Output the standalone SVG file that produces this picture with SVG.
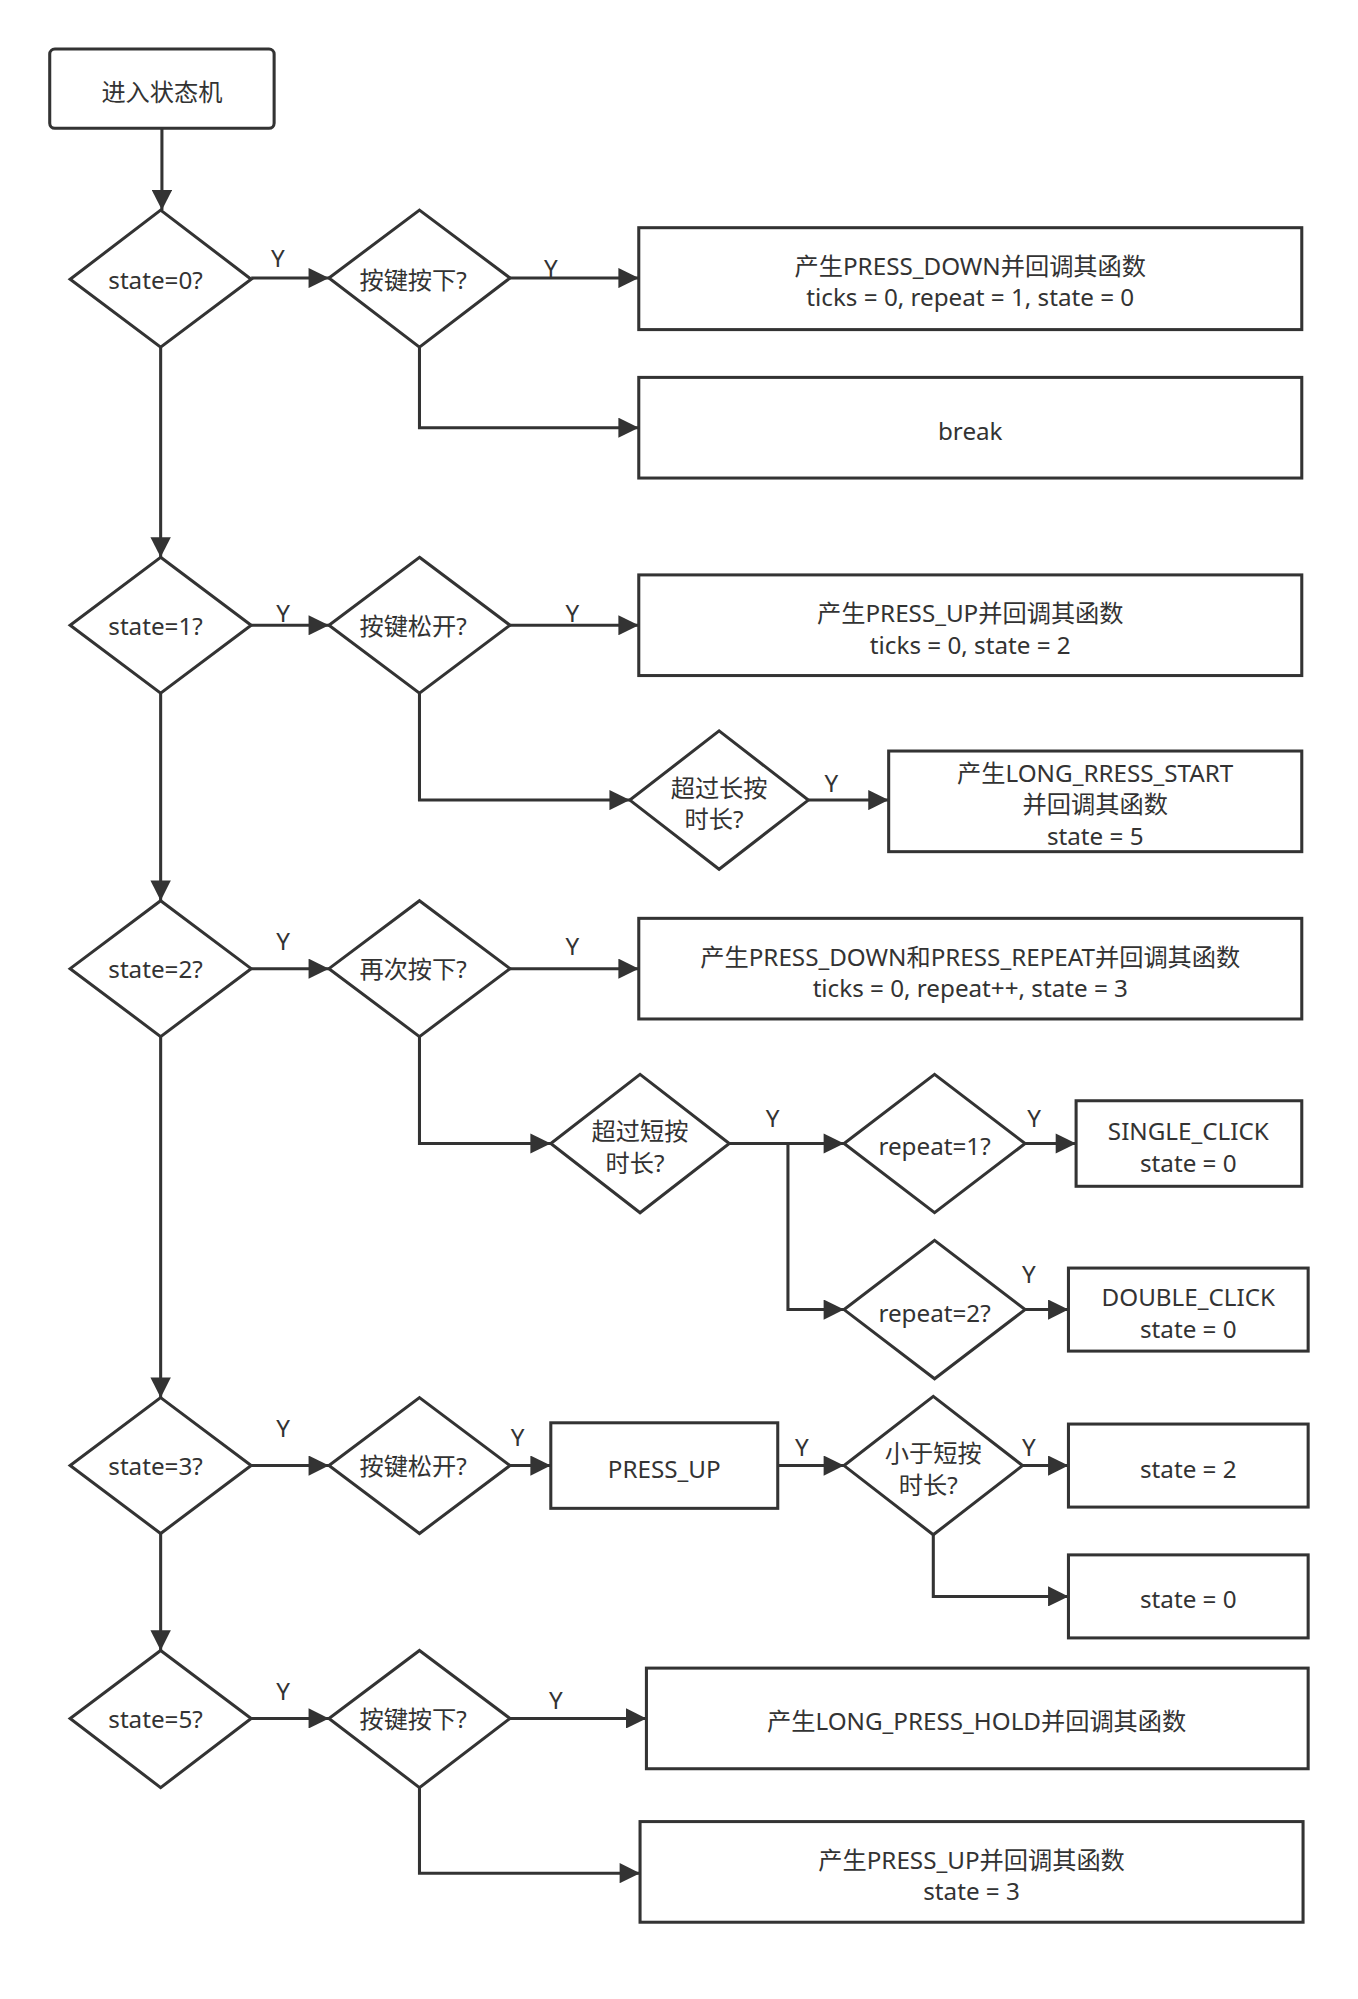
<svg xmlns="http://www.w3.org/2000/svg" width="1358" height="1999" viewBox="0 0 1358 1999">
<style>
.s{fill:#fff;stroke:#333;stroke-width:2.4}
.c{fill:none;stroke:#333;stroke-width:2.4}
text{font-family:"Noto Sans","Noto Sans CJK SC",sans-serif;font-size:19px;fill:#333;text-anchor:middle;dominant-baseline:central}
</style>
<defs>
<marker id="a" viewBox="0 0 10 10" refX="10" refY="5" markerUnits="userSpaceOnUse" markerWidth="24" markerHeight="16" orient="auto"><path d="M0,0L10,5L0,10z" fill="#333"/></marker>
</defs>
<rect width="1358" height="1999" fill="#fff"/>
<g transform="scale(1.275 1.258)">
<g id="connectors" marker-end="url(#a)">
<path class="c" d="M127,102V167"/>
<path class="c" d="M126,276V443"/>
<path class="c" d="M126,551V716"/>
<path class="c" d="M126,824V1111"/>
<path class="c" d="M126,1219V1312"/>
<path class="c" d="M197,221H258"/>
<path class="c" d="M197,497H258"/>
<path class="c" d="M197,770H258"/>
<path class="c" d="M197,1165H258"/>
<path class="c" d="M197,1366H258"/>
<path class="c" d="M400,221H501"/>
<path class="c" d="M329,276V340H501"/>
<path class="c" d="M400,497H501"/>
<path class="c" d="M329,551V636H494"/>
<path class="c" d="M634,636H697"/>
<path class="c" d="M400,770H501"/>
<path class="c" d="M329,824V909H432"/>
<path class="c" d="M572,909H662"/>
<path class="c" d="M618,909V1041H662"/>
<path class="c" d="M804,909H844"/>
<path class="c" d="M804,1041H838"/>
<path class="c" d="M400,1165H432"/>
<path class="c" d="M610,1165H662"/>
<path class="c" d="M802,1165H838"/>
<path class="c" d="M732,1220V1269H838"/>
<path class="c" d="M400,1366H507"/>
<path class="c" d="M329,1421V1489H502"/>
</g>
<g id="labels">
<text x="218" y="205">Y</text><text x="432" y="213">Y</text>
<text x="222" y="487">Y</text><text x="449" y="487">Y</text><text x="652" y="622">Y</text>
<text x="222" y="748">Y</text><text x="449" y="752">Y</text><text x="606" y="888">Y</text><text x="811" y="888">Y</text><text x="807" y="1012">Y</text>
<text x="222" y="1135">Y</text><text x="406" y="1142">Y</text><text x="629" y="1150">Y</text><text x="807" y="1150">Y</text>
<text x="222" y="1344">Y</text><text x="436" y="1351">Y</text>
</g>
<g id="start"><rect class="s" x="39" y="39" width="176" height="63" rx="4"/><text x="127" y="73">进入状态机</text></g>
<g id="d0"><path class="s" d="M126,167L197,222L126,276L55,222z"/><text x="122" y="222">state=0?</text></g>
<g id="d1"><path class="s" d="M126,443L197,497L126,551L55,497z"/><text x="122" y="497">state=1?</text></g>
<g id="d2"><path class="s" d="M126,716L197,770L126,824L55,770z"/><text x="122" y="770">state=2?</text></g>
<g id="d3"><path class="s" d="M126,1111L197,1165L126,1219L55,1165z"/><text x="122" y="1165">state=3?</text></g>
<g id="d5"><path class="s" d="M126,1312L197,1366L126,1421L55,1366z"/><text x="122" y="1366">state=5?</text></g>
<g id="k0"><path class="s" d="M329,167L400,221L329,276L258,221z"/><text x="324" y="222">按键按下?</text></g>
<g id="k1"><path class="s" d="M329,443L400,497L329,551L258,497z"/><text x="324" y="497">按键松开?</text></g>
<g id="k2"><path class="s" d="M329,716L400,770L329,824L258,770z"/><text x="324" y="770">再次按下?</text></g>
<g id="k3"><path class="s" d="M329,1111L400,1165L329,1219L258,1165z"/><text x="324" y="1165">按键松开?</text></g>
<g id="k5"><path class="s" d="M329,1312L400,1366L329,1421L258,1366z"/><text x="324" y="1366">按键按下?</text></g>
<g id="b0"><rect class="s" x="501" y="181" width="520" height="81"/><text x="761" y="211">产生PRESS_DOWN并回调其函数</text><text x="761" y="236">ticks = 0, repeat = 1, state = 0</text></g>
<g id="brk"><rect class="s" x="501" y="300" width="520" height="80"/><text x="761" y="342">break</text></g>
<g id="b1"><rect class="s" x="501" y="457" width="520" height="80"/><text x="761" y="487">产生PRESS_UP并回调其函数</text><text x="761" y="512">ticks = 0, state = 2</text></g>
<g id="long"><path class="s" d="M564,581L634,636L564,691L494,636z"/><text x="564" y="626">超过长按</text><text x="560" y="651">时长?</text></g>
<g id="b1b"><rect class="s" x="697" y="597" width="324" height="80"/><text x="859" y="614">产生LONG_RRESS_START</text><text x="859" y="639">并回调其函数</text><text x="859" y="664">state = 5</text></g>
<g id="b2"><rect class="s" x="501" y="730" width="520" height="80"/><text x="761" y="760">产生PRESS_DOWN和PRESS_REPEAT并回调其函数</text><text x="761" y="785">ticks = 0, repeat++, state = 3</text></g>
<g id="short"><path class="s" d="M502,854L572,909L502,964L432,909z"/><text x="502" y="899">超过短按</text><text x="498" y="924">时长?</text></g>
<g id="r1"><path class="s" d="M733,854L804,909L733,964L662,909z"/><text x="733" y="911">repeat=1?</text></g>
<g id="sc"><rect class="s" x="844" y="875" width="177" height="68"/><text x="932" y="899">SINGLE_CLICK</text><text x="932" y="924">state = 0</text></g>
<g id="r2"><path class="s" d="M733,986L804,1041L733,1096L662,1041z"/><text x="733" y="1043">repeat=2?</text></g>
<g id="dc"><rect class="s" x="838" y="1008" width="188" height="66"/><text x="932" y="1031">DOUBLE_CLICK</text><text x="932" y="1056">state = 0</text></g>
<g id="pu"><rect class="s" x="432" y="1131" width="178" height="68"/><text x="521" y="1167">PRESS_UP</text></g>
<g id="lt"><path class="s" d="M732,1110L802,1165L732,1220L662,1165z"/><text x="732" y="1155">小于短按</text><text x="728" y="1180">时长?</text></g>
<g id="s2"><rect class="s" x="838" y="1132" width="188" height="66"/><text x="932" y="1167">state = 2</text></g>
<g id="s0"><rect class="s" x="838" y="1236" width="188" height="66"/><text x="932" y="1271">state = 0</text></g>
<g id="b5"><rect class="s" x="507" y="1326" width="519" height="80"/><text x="766" y="1368">产生LONG_PRESS_HOLD并回调其函数</text></g>
<g id="b5b"><rect class="s" x="502" y="1448" width="520" height="80"/><text x="762" y="1478">产生PRESS_UP并回调其函数</text><text x="762" y="1503">state = 3</text></g>
</g>
</svg>
